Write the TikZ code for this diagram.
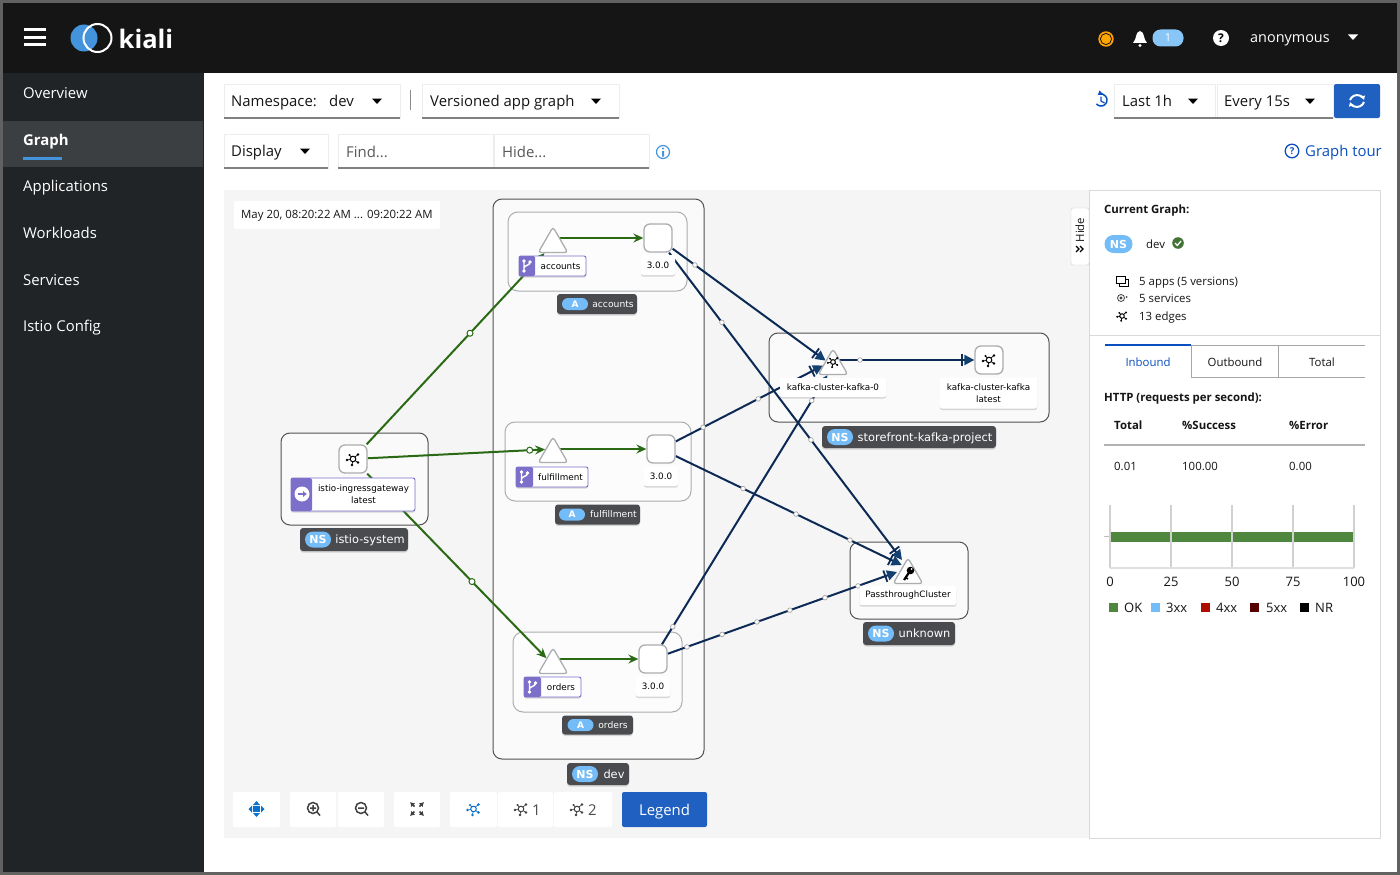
\documentclass[tikz,border=0pt]{standalone}
\usepackage{fontspec}
\setmainfont{Open Sans}
\newfontfamily\graphfont{DejaVu Sans}
\usetikzlibrary{arrows.meta,shapes.geometric,shadows,calc}
\definecolor{headblack}{HTML}{151515}
\definecolor{sidedark}{HTML}{212427}
\definecolor{sidesel}{HTML}{3C3F42}
\definecolor{pfblue}{HTML}{1F60C0}
\definecolor{linkblue}{HTML}{0A4FC0}
\definecolor{logoblue}{HTML}{4394DC}
\definecolor{pillblue}{HTML}{73BCF7}
\definecolor{tagdark}{HTML}{4A4B4F}
\definecolor{graphgray}{HTML}{F5F5F5}
\definecolor{boxgray}{HTML}{ABADB0}
\definecolor{edgegreen}{HTML}{2A6A14}
\definecolor{edgenavy}{HTML}{0C2A55}
\definecolor{tipnavy}{HTML}{14406F}
\definecolor{apppurple}{HTML}{7B6FCA}
\definecolor{okgreen}{HTML}{4F873E}
\pgfdeclarelayer{back}
\pgfdeclarelayer{edges}
\pgfsetlayers{back,edges,main}
\tikzset{
	uitext/.style={font=\fontsize{14.9}{18}\selectfont,text=headblack,anchor=west,inner sep=0,text height=12,text depth=1},
	navitem/.style={uitext,text=white},
	paneltext/.style={uitext,font=\fontsize{11.4}{14}\selectfont,text height=9,text depth=1},
	panelbold/.style={paneltext,font=\fontsize{11.4}{14}\selectfont\bfseries},
	charttext/.style={uitext,font=\fontsize{13}{15}\selectfont,text height=10,text depth=1},
	inputbox/.style={fill=white,draw=black!7},
	toolbtn/.style={fill=white,rounded corners=2},
	appbox/.style={draw=boxgray,fill=white!99!black,rounded corners=10,line width=1},
	groupbox/.style={draw=black!68,fill=white!98!black,rounded corners=9,line width=1},
	vertex/.style={draw=boxgray,fill=white,line width=1.3,inner sep=0},
	appnode/.style={vertex,regular polygon,regular polygon sides=3,minimum size=34,rounded corners=3},
	versionnode/.style={vertex,rectangle,minimum size=28,rounded corners=6},
	gtext/.style={font=\graphfont\fontsize{8.8}{12}\selectfont,text=black,align=center,inner sep=0},
	glabel/.style={gtext,fill=white,rounded corners=2,drop shadow={shadow xshift=0pt,shadow yshift=-1.5pt,opacity=.3}},
	applabel/.style={glabel,draw=apppurple,line width=.9},
	badge/.style={fill=tagdark,rounded corners=3,inner sep=0,drop shadow={shadow xshift=0pt,shadow yshift=-1.5pt,opacity=.3}},
	pillnode/.style={fill=pillblue,rounded corners=6,text=white,inner sep=0,font=\graphfont\bfseries\fontsize{9}{10}\selectfont,minimum width=26,minimum height=12},
	badgetext/.style={font=\graphfont\fontsize{9.2}{11}\selectfont,text=white,inner sep=0,text height=7.5,text depth=1},
	nstext/.style={font=\graphfont\fontsize{11.4}{13}\selectfont,text=white,inner sep=0,text height=9,text depth=1},
	nspill/.style={pillnode,minimum height=16,rounded corners=8,font=\graphfont\bfseries\fontsize{11}{12}\selectfont},
	httpedge/.style={draw=edgegreen,line width=2,-{Stealth[length=10,width=9,inset=3.5]}},
	tcpedge/.style={draw=edgenavy,line width=2,-{Bar[width=12,line width=1.8,sep=1.5]Triangle[length=10,width=10,fill=tipnavy,color=tipnavy]}},
	edgedot/.style={fill=white,draw=black!35,line width=.7},
	greendot/.style={fill=white,draw=edgegreen,line width=1},
	caret/.pic={\fill (-5,-2.5) -- (5,-2.5) -- (0,3) -- cycle;},
	meshicon/.pic={
		\draw[line width=1] (0,0) circle (2.8);
		\fill (5,-4.5) circle (1.4) (-3.5,-4) circle (1.2) (-6,1) circle (1.3) (5,3.5) circle (1.3) (-1,6) circle (1.3);
		\draw[line width=.7] (2,-2) -- (5,-4.5) (-1.7,-2) -- (-3.5,-4) (-2.6,.5) -- (-6,1) (2.3,1.6) -- (5,3.5) (-.4,2.7) -- (-1,6);},
	branchicon/.pic={
		\draw[white,line width=1.4] (-3,-5) -- (-3,5) (3,-4) .. controls (3,0) and (-3,-1) .. (-3,2);
		\fill[white] (-3,-5) circle (1.8) (-3,5) circle (1.8) (3,-4) circle (1.8);}
}
\begin{document}
\begin{tikzpicture}[x=1pt,y=-1pt]
	\useasboundingbox (0,0) rectangle (1400,875);
	\begin{pgfonlayer}{back}
		% window, header and side bar
		\fill[black!62] (0,0) rectangle (1400,875);
		\fill[white] (3,3) rectangle (1397,872);
		\fill[headblack] (3,3) rectangle (1397,73);
		\fill[sidedark] (3,73) rectangle (204,872);
		\fill[sidesel] (3,121) rectangle (203,167);
		\fill[logoblue] (23,157) rectangle (62,160);
		% tool bar
		\draw[inputbox] (224,84) rectangle (400,118);
		\draw[inputbox] (422,84) rectangle (619,118);
		\draw[inputbox] (224,134) rectangle (328,168);
		\draw[inputbox] (338,134) rectangle (493,168);
		\draw[inputbox] (494,134) rectangle (649,168);
		\draw[inputbox] (1114,84) rectangle (1215,118);
		\draw[inputbox] (1217,84) rectangle (1333,118);
		\draw[black!50,line width=1.4] (224,118) -- (400,118) (422,118) -- (619,118) (224,168) -- (328,168);
		\draw[black!50,line width=1.4] (338,168) -- (649,168) (1114,118) -- (1333,118);
		\draw[black!45,line width=1] (410,90) -- (410,110);
		\fill[pfblue,rounded corners=2] (1334,84) rectangle (1380,118);
		% graph area and side panel
		\fill[graphgray] (224,190) rectangle (1089,838);
		\draw[fill=white,draw=black!15] (1089,190) rectangle (1380,838);
		\draw[black!15] (1089,335) -- (1380,335);
		\draw[fill=white,draw=black!20,rounded corners=2] (1071,208) rectangle (1089,265);
		\fill[white,rounded corners=2] (234,201) rectangle (440,229);
		% groups
		\draw[groupbox] (493,199) rectangle (704,759);
		\draw[groupbox] (281,433) rectangle (428,525);
		\draw[groupbox] (769,333) rectangle (1049,422);
		\draw[groupbox] (850,542) rectangle (968,619);
		\draw[appbox] (508,212) rectangle (687,291);
		\draw[appbox] (505,422) rectangle (691,501);
		\draw[appbox] (513,632) rectangle (682,712);
		% zoom buttons
		\fill[toolbtn] (233,792) rectangle (280,827);
		\fill[toolbtn] (290,792) rectangle (336,827);
		\fill[toolbtn] (338,792) rectangle (384,827);
		\fill[toolbtn] (394,792) rectangle (440,827);
		\fill[toolbtn] (450,792) rectangle (497,827);
		\fill[toolbtn] (498,792) rectangle (553,827);
		\fill[toolbtn] (554,792) rectangle (612,827);
		\fill[pfblue,rounded corners=2] (622,792) rectangle (707,827);
	\end{pgfonlayer}

	% header
	\draw[white,line width=3] (24,30) -- (46,30) (24,37.5) -- (46,37.5) (24,45) -- (46,45);
	\fill[logoblue] (84,38) circle (13.5);
	\draw[white,line width=2] (97.5,38) circle (14);
	\node[font=\fontsize{25.5}{27}\selectfont\bfseries,text=white,inner sep=0] (logotext) at (146,39) {kiali};
	\draw[orange!75!yellow,line width=1.4,fill=orange!70!yellow] (1106,39) circle (7);
	\draw[headblack,line width=.8] (1106,39) circle (5.6);
	\fill[white] (1133,43) .. controls (1137,39) and (1135,32) .. (1140,31) .. controls (1145,32) and (1143,39) .. (1147,43) -- cycle;
	\fill[white] (1140,45.5) circle (1.7);
	\node[fill=pillblue!85!white,rounded corners=8,minimum width=31,minimum height=17,inner sep=0,text=white,font=\fontsize{11}{12}\selectfont] (bellcount) at (1168,38) {1};
	\node[circle,fill=white,minimum size=16,inner sep=0,text=black,font=\fontsize{12}{12}\selectfont\bfseries] (helpicon) at (1221,38) {?};
	\node[navitem,font=\fontsize{14.4}{18}\selectfont] (username) at (1250,37) {anonymous};
	\pic[white] at (1353,37) {caret};

	% side bar
	\node[navitem] (navoverview) at (23,93) {Overview};
	\node[navitem,font=\fontsize{14.9}{18}\selectfont\bfseries] (navgraph) at (23,140) {Graph};
	\node[navitem] (navapps) at (23,186) {Applications};
	\node[navitem] (navworkloads) at (23,233) {Workloads};
	\node[navitem] (navservices) at (23,280) {Services};
	\node[navitem] (navistio) at (23,326) {Istio Config};

	% tool bar
	\node[uitext] (nslabel) at (231,101) {Namespace:};
	\node[uitext] (nsvalue) at (329,101) {dev};
	\pic at (377,101) {caret};
	\node[uitext] (graphtype) at (430,101) {Versioned app graph};
	\pic at (596,101) {caret};
	\node[uitext] (displaybtn) at (231,151) {Display};
	\pic at (305,151) {caret};
	\node[uitext,text=black!65] (findbox) at (346,152) {Find...};
	\node[uitext,text=black!65] (hidebox) at (502,152) {Hide...};
	\draw[logoblue,line width=1.2] (663,152) circle (6.5);
	\fill[logoblue] (662,151) rectangle (664,156.5) (663,148.5) circle (1.1);
	\draw[linkblue,line width=1.5,-{Latex[length=4.5,width=6]}] (1096.4,103.9) arc (140:-125:6);
	\draw[linkblue,line width=1.2] (1101,96.5) -- (1101,101) -- (1104.5,103);
	\node[uitext] (lastrange) at (1122,101) {Last 1h};
	\pic at (1193,101) {caret};
	\node[uitext] (everyrate) at (1224,101) {Every 15s};
	\pic at (1310,101) {caret};
	\draw[white,line width=2,-{Latex[length=4,width=5.5]}] (1350,100) arc (200:340:7.5);
	\draw[white,line width=2,-{Latex[length=4,width=5.5]}] (1364,102) arc (20:160:7.5);
	\draw[linkblue,line width=1.3] (1292,151) circle (6.8);
	\node[font=\fontsize{9.5}{10}\selectfont\bfseries,text=linkblue,inner sep=0] (tourmark) at (1292,151) {?};
	\node[uitext,text=linkblue] (graphtour) at (1305,151) {Graph tour};

	% graph area
	\node[paneltext,font=\fontsize{11.4}{14}\selectfont] (timerange) at (241,214) {May 20, 08:20:22 AM ... 09:20:22 AM};
	\node[paneltext,rotate=90,anchor=center] (hidetab) at (1080,230) {Hide};
	\draw[black,line width=1.2] (1076,246) -- (1079,249) -- (1076,252) (1080,246) -- (1083,249) -- (1080,252);

	% graph nodes
	\node[versionnode] (gateway) at (353,459) {};
	\node[appnode] (accountsapp) at (553,244) {};
	\node[versionnode] (accountsver) at (658,238) {};
	\node[appnode] (fulfillapp) at (553,454) {};
	\node[versionnode] (fulfillver) at (661,449) {};
	\node[appnode] (ordersapp) at (553,665) {};
	\node[versionnode] (ordersver) at (653,659) {};
	\node[appnode] (kafkapod) at (833,366) {};
	\node[versionnode] (kafkasvc) at (989,360) {};
	\node[appnode] (passthrough) at (908,575) {};
	\coordinate (kafkaside) at (823,365.5);
	\coordinate (passtop) at (902,560);
	\coordinate (passmid) at (901.7,565);
	\coordinate (passlow) at (897,572);
	\pic at (353,459) {meshicon};
	\pic[scale=.85] at (833,362) {meshicon};
	\pic at (989,360) {meshicon};
	\fill (910.5,570.5) circle (3.8);
	\draw[line width=2.2] (910,571) -- (904,580);
	\draw[line width=1.5] (905.5,577.5) -- (908,579);
	\fill[white] (911.5,569) circle (1);

	% node labels
	\node[applabel,minimum width=124,minimum height=33] (gatewaylabel) at (353,494.5) {};
	\fill[apppurple,rounded corners=1.5] (291,478) rectangle (312,511);
	\fill[white] (302,494) circle (7.5);
	\draw[apppurple,line width=1.6,-{Latex[length=4,width=6.5]}] (297.5,494) -- (307,494);
	\node[gtext] (gatewaytext) at (363.5,494.5) {istio-ingressgateway\\latest};
	\node[applabel,minimum width=67,minimum height=20] (accountslabel) at (552.5,266) {};
	\fill[apppurple,rounded corners=1.5] (519,256) rectangle (535,276);
	\pic at (527,266) {branchicon};
	\node[gtext] (accountstext) at (560.5,266) {accounts};
	\node[applabel,minimum width=72,minimum height=20] (fulfilllabel) at (552,477) {};
	\fill[apppurple,rounded corners=1.5] (516,467) rectangle (533,487);
	\pic at (524.5,477) {branchicon};
	\node[gtext] (fulfilltext) at (560.5,477) {fulfillment};
	\node[applabel,minimum width=57,minimum height=20] (orderslabel) at (552.5,687) {};
	\fill[apppurple,rounded corners=1.5] (524,677) rectangle (541,697);
	\pic at (532.5,687) {branchicon};
	\node[gtext] (orderstext) at (561,687) {orders};
	\node[glabel,minimum width=34,minimum height=20] (accountsvertext) at (658,265) {3.0.0};
	\node[glabel,minimum width=34,minimum height=20] (fulfillvertext) at (661,476) {3.0.0};
	\node[glabel,minimum width=34,minimum height=20] (ordersvertext) at (653,686.5) {3.0.0};
	\node[glabel,minimum width=106,minimum height=19] (kafkapodlabel) at (833,387.5) {kafka-cluster-kafka-0};
	\node[glabel,minimum width=97,minimum height=31] (kafkasvclabel) at (988.5,393) {kafka-cluster-kafka\\latest};
	\node[glabel,minimum width=97,minimum height=19] (passlabel) at (908,595.5) {PassthroughCluster};

	% group tags
	\node[badge,minimum width=80,minimum height=20] (accountstag) at (597,304) {};
	\node[pillnode] (accountspill) at (575,304) {A};
	\node[badgetext] (accountsname) at (613,304) {accounts};
	\node[badge,minimum width=85,minimum height=20] (fulfilltag) at (597.5,514.5) {};
	\node[pillnode] (fulfillpill) at (572,514.5) {A};
	\node[badgetext] (fulfillname) at (613.5,514.5) {fulfillment};
	\node[badge,minimum width=71,minimum height=19] (orderstag) at (597.5,725) {};
	\node[pillnode] (orderspill) at (580.5,725) {A};
	\node[badgetext] (ordersname) at (613,725) {orders};
	\node[badge,minimum width=62,minimum height=22] (devtag) at (598,774) {};
	\node[nspill] (devpill) at (585,774) {NS};
	\node[nstext] (devname) at (614,774) {dev};
	\node[badge,minimum width=108,minimum height=23] (istiotag) at (354,539.5) {};
	\node[nspill] (istiopill) at (318,539.5) {NS};
	\node[nstext] (istioname) at (370,539.5) {istio-system};
	\node[badge,minimum width=174,minimum height=22] (kafkatag) at (909,437) {};
	\node[nspill] (kafkapill) at (840,437) {NS};
	\node[nstext] (kafkaname) at (925,437) {storefront-kafka-project};
	\node[badge,minimum width=92,minimum height=23] (unknowntag) at (909,633.5) {};
	\node[nspill] (unknownpill) at (881,633.5) {NS};
	\node[nstext] (unknownname) at (924.5,633.5) {unknown};

	% edges
	\begin{pgfonlayer}{edges}
		\draw[httpedge] (gateway) -- (accountsapp);
		\draw[httpedge] (gateway) -- (fulfillapp.side 1);
		\draw[httpedge] (gateway) -- (ordersapp);
		\draw[httpedge] (accountsapp.center |- accountsver) -- (accountsver);
		\draw[httpedge] (fulfillapp.center |- fulfillver) -- (fulfillver);
		\draw[httpedge] (ordersapp.center |- ordersver) -- (ordersver);
		\draw[tcpedge] (accountsver) -- (kafkapod);
		\draw[tcpedge] (accountsver) -- (passtop);
		\draw[tcpedge] (fulfillver) -- (kafkaside);
		\draw[tcpedge] (fulfillver) -- (passmid);
		\draw[tcpedge] (ordersver) -- (kafkapod);
		\draw[tcpedge] (ordersver) -- (passlow);
		\draw[tcpedge] (kafkapod.center |- kafkasvc) -- (kafkasvc);
		\filldraw[greendot] ($(gateway)!.585!(accountsapp)$) circle (3);
		\filldraw[greendot] ($(gateway)!.92!(fulfillapp.side 1)$) circle (3);
		\filldraw[greendot] ($(gateway)!.595!(ordersapp)$) circle (3);
		\filldraw[edgedot] ($(accountsver)!.211!(kafkapod)$) circle (2.3);
		\filldraw[edgedot] ($(accountsver)!.262!(passtop)$) circle (2.3);
		\filldraw[edgedot] ($(accountsver)!.627!(passtop)$) circle (2.3);
		\filldraw[edgedot] ($(fulfillver)!.26!(kafkaside)$) circle (2.3);
		\filldraw[edgedot] ($(fulfillver)!.6!(kafkaside)$) circle (2.3);
		\filldraw[edgedot] ($(fulfillver)!.341!(passmid)$) circle (2.3);
		\filldraw[edgedot] ($(fulfillver)!.561!(passmid)$) circle (2.3);
		\filldraw[edgedot] ($(fulfillver)!.785!(passmid)$) circle (2.3);
		\filldraw[edgedot] ($(ordersver)!.11!(kafkapod)$) circle (2.3);
		\filldraw[edgedot] ($(ordersver)!.882!(kafkapod)$) circle (2.3);
		\filldraw[edgedot] ($(ordersver)!.139!(passlow)$) circle (2.3);
		\filldraw[edgedot] ($(ordersver)!.283!(passlow)$) circle (2.3);
		\filldraw[edgedot] ($(ordersver)!.426!(passlow)$) circle (2.3);
		\filldraw[edgedot] ($(ordersver)!.561!(passlow)$) circle (2.3);
		\filldraw[edgedot] ($(ordersver)!.705!(passlow)$) circle (2.3);
		\filldraw[edgedot] ($(ordersver)!.84!(passlow)$) circle (2.3);
		\filldraw[edgedot] (860,360) circle (2.3);
	\end{pgfonlayer}

	% bottom buttons
	\fill[linkblue!80!cyan] (256.5,801) -- (260,805) -- (253,805) -- cycle (256.5,817) -- (260,813) -- (253,813) -- cycle (248.5,809) -- (252,805.5) -- (252,812.5) -- cycle (264.5,809) -- (261,805.5) -- (261,812.5) -- cycle;
	\fill[linkblue!80!cyan] (253,806) rectangle (260,812);
	\draw[black!75,line width=1.5] (313,808) circle (5.5) (317,812) -- (320,815.5) (310,808) -- (316,808) (313,805) -- (313,811);
	\draw[black!75,line width=1.5] (361,808) circle (5.5) (365,812) -- (368,815.5) (358,808) -- (364,808);
	\draw[black!75,line width=1.6,-{Latex[length=4.5,width=5.5]}] (414.5,806.5) -- (410,802);
	\draw[black!75,line width=1.6,-{Latex[length=4.5,width=5.5]}] (419.5,806.5) -- (424,802);
	\draw[black!75,line width=1.6,-{Latex[length=4.5,width=5.5]}] (414.5,811.5) -- (410,816);
	\draw[black!75,line width=1.6,-{Latex[length=4.5,width=5.5]}] (419.5,811.5) -- (424,816);
	\pic[linkblue!80!cyan] at (473.5,809) {meshicon};
	\pic[black!75] at (521,809) {meshicon};
	\node[uitext,text=black!70] (layoutone) at (532,810) {1};
	\pic[black!75] at (577,809) {meshicon};
	\node[uitext,text=black!70] (layouttwo) at (588,810) {2};
	\node[uitext,text=white,anchor=center] (legendbtn) at (664.5,810) {Legend};

	% side panel
	\node[panelbold] (currentgraph) at (1104,209) {Current Graph:};
	\node[nspill,minimum width=28,minimum height=18,rounded corners=9] (panelpill) at (1118.5,244) {NS};
	\node[paneltext] (paneldev) at (1146,244) {dev};
	\fill[okgreen!85!black] (1178,243) circle (5.8);
	\draw[white,line width=1.3] (1175,243) -- (1177.3,245.5) -- (1181,241);
	\draw[black,line width=.9] (1116,276) rectangle (1125,283) (1119,283) -- (1119,286) -- (1128,286) -- (1128,279) -- (1125,279);
	\draw[black!75,line width=.8] (1121,298) circle (3.5) (1121,298) circle (1);
	\fill[black!75] (1126.5,297) circle (1);
	\pic[scale=.8] at (1122,316) {meshicon};
	\node[paneltext] (panelapps) at (1139,281) {5 apps (5 versions)};
	\node[paneltext] (panelsvcs) at (1139,298.5) {5 services};
	\node[paneltext] (paneledges) at (1139,316) {13 edges};
	\draw[black!35,line width=1] (1191,345) -- (1365,345) (1191,377.5) -- (1365,377.5) (1191,345) -- (1191,377.5) (1278,345) -- (1278,377.5);
	\draw[linkblue,line width=1.6] (1105,345) -- (1191,345);
	\node[paneltext,anchor=center,text=linkblue] (tabinbound) at (1148,362) {Inbound};
	\node[paneltext,anchor=center] (taboutbound) at (1235,362) {Outbound};
	\node[paneltext,anchor=center] (tabtotal) at (1322,362) {Total};
	\node[panelbold] (httptitle) at (1104,397) {HTTP (requests per second):};
	\node[panelbold] (coltotal) at (1114,425) {Total};
	\node[panelbold] (colsuccess) at (1182,425) {\%Success};
	\node[panelbold] (colerror) at (1289,425) {\%Error};
	\draw[black!30,line width=1.4] (1104,445) -- (1365,445);
	\node[paneltext] (valtotal) at (1114,466) {0.01};
	\node[paneltext] (valsuccess) at (1182,466) {100.00};
	\node[paneltext] (valerror) at (1289,466) {0.00};

	% rate chart
	\fill[okgreen] (1110,531.5) rectangle (1354,541.5);
	\draw[black!18,line width=1.2] (1110,505) -- (1110,568) (1171,505) -- (1171,568) (1232,505) -- (1232,568) (1293,505) -- (1293,568) (1354,505) -- (1354,568);
	\draw[black!12,line width=1.8] (1110,568) -- (1354,568);
	\draw[black!25,line width=.8] (1104,536) -- (1109,536);
	\node[charttext,anchor=center] (tickzero) at (1110,582) {0};
	\node[charttext,anchor=center] (tickquarter) at (1171,582) {25};
	\node[charttext,anchor=center] (tickhalf) at (1232,582) {50};
	\node[charttext,anchor=center] (tickthree) at (1293,582) {75};
	\node[charttext,anchor=center] (tickfull) at (1354,582) {100};
	\fill[okgreen] (1108.5,603) rectangle (1117.5,612);
	\node[charttext] (keyok) at (1124,607.5) {OK};
	\fill[pillblue] (1151,603) rectangle (1160,612);
	\node[charttext] (keythree) at (1166,607.5) {3xx};
	\fill[red!65!black!90!orange] (1200.5,603) rectangle (1209.5,612);
	\node[charttext] (keyfour) at (1216,607.5) {4xx};
	\fill[red!60!black!55!black] (1250,603) rectangle (1259,612);
	\node[charttext] (keyfive) at (1266,607.5) {5xx};
	\fill[black] (1300,603) rectangle (1309,612);
	\node[charttext] (keynr) at (1315,607.5) {NR};
\end{tikzpicture}
\end{document}
